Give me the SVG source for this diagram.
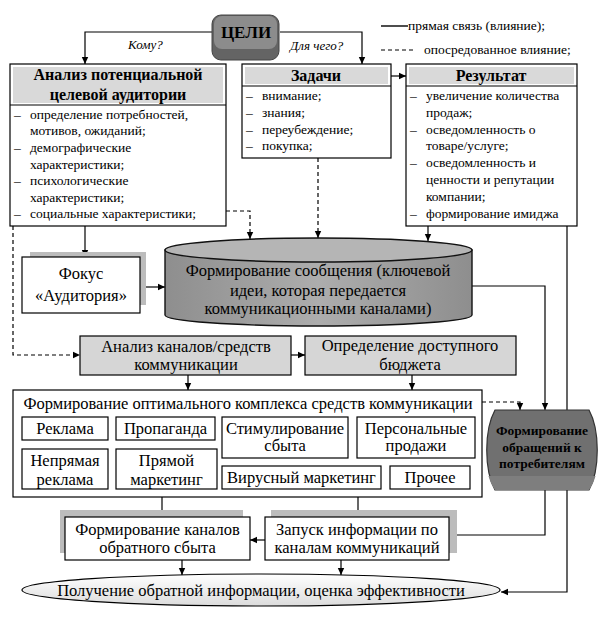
<svg xmlns="http://www.w3.org/2000/svg" width="602" height="618" viewBox="0 0 602 618" font-family="Liberation Serif, DejaVu Serif, serif">
<style>
text{font-family:Liberation Serif, DejaVu Serif, serif;fill:#000}
.b{font-size:13.5px}
.m{font-size:16.5px}
.h{font-size:16px;font-weight:bold}
.c{text-anchor:middle}
.i{font-size:13px;font-style:italic}
.box{fill:#fff;stroke:#000;stroke-width:1.2}
.gbox{fill:#d6d6d6;stroke:#000;stroke-width:1.2}
.hdr{fill:#d9d9d9}
.sh{fill:#bcbcbc}
.ln{fill:none;stroke:#000;stroke-width:1.2}
.ar{marker-end:url(#a)}
.da{stroke-dasharray:4,3}
</style>
<defs>
<marker id="a" markerWidth="8" markerHeight="8" refX="7" refY="4" orient="auto" markerUnits="userSpaceOnUse">
<path d="M0,0.8 L7,4 L0,7.2 Z" fill="#000"/>
</marker>
<linearGradient id="cyl" x1="0" y1="0" x2="1" y2="0">
<stop offset="0" stop-color="#8e8e8e"/>
<stop offset="0.5" stop-color="#adadad"/>
<stop offset="1" stop-color="#8e8e8e"/>
</linearGradient>
<linearGradient id="ell" x1="0" y1="0" x2="0" y2="1">
<stop offset="0" stop-color="#ffffff"/>
<stop offset="1" stop-color="#dcdcdc"/>
</linearGradient>
</defs>
<rect width="602" height="618" fill="#fff"/>

<g id="connectors">
<polyline class="ln ar" points="213,32 85,32 85,64"/>
<polyline class="ln ar" points="280,32 362,32 362,64"/>
<polyline class="ln ar" points="391,76 406,76"/>
<polyline class="ln ar da" points="226,211 250,211 250,239"/>
<polyline class="ln ar da" points="318,158 318,238"/>
<polyline class="ln ar" points="428,226 428,241"/>
<polyline class="ln ar" points="85,226 85,257"/>
<polyline class="ln ar da" points="13,226 13,355 80,355"/>
<polyline class="ln ar" points="140,287 165,287"/>
<polyline class="ln ar" points="472,286 545,286 545,410"/>
<polyline class="ln ar" points="567,226 567,592 501,592"/>
<polyline class="ln ar" points="291,355 305,355"/>
<polyline class="ln ar" points="188,375 188,390"/>
<polyline class="ln ar" points="412,375 412,390"/>
<polyline class="ln ar da" points="482,402 520,402 520,410"/>
<polyline class="ln ar" points="162,497 162,517"/>
<polyline class="ln ar" points="358,497 358,517"/>
<polyline class="ln ar" points="545,490 545,535 450,535"/>
<polyline class="ln ar" points="265,540 250,540"/>
<polyline class="ln ar" points="182,560 182,575"/>
<polyline class="ln ar" points="341,560 341,575"/>
</g>

<g id="legend">
<line x1="381" y1="26" x2="408" y2="26" stroke="#000" stroke-width="1.4"/>
<text class="b" x="408" y="30">прямая связь (влияние);</text>
<line x1="381" y1="50" x2="414" y2="50" stroke="#000" stroke-width="1.2" stroke-dasharray="4,3"/>
<text class="b" x="424" y="54">опосредованное влияние;</text>
</g>

<g id="labels">
<text class="i" x="128" y="49">Кому?</text>
<text class="i" x="290" y="50">Для чего?</text>
</g>

<g id="celi">
<rect x="212" y="15" width="67" height="45" rx="9" fill="#646464" stroke="#444" stroke-width="1"/>
<rect x="214" y="16" width="63" height="33" rx="8" fill="#8c8c8c"/>
<text x="246" y="38" class="c" style="font-size:17px;font-weight:bold">ЦЕЛИ</text>
</g>

<g id="analiz">
<rect class="box" x="10" y="64" width="216" height="162"/>
<rect class="hdr" x="13" y="67" width="210" height="36"/>
<line x1="10" y1="105" x2="226" y2="105" stroke="#000" stroke-width="1.2"/>
<text class="h c" x="118" y="80">Анализ потенциальной</text>
<text class="h c" x="118" y="100">целевой аудитории</text>
<text class="b" x="14" y="118.5">–</text><text class="b" x="30" y="118.5">определение потребностей,</text>
<text class="b" x="30" y="135.2">мотивов, ожиданий;</text>
<text class="b" x="14" y="151.8">–</text><text class="b" x="30" y="151.8">демографические</text>
<text class="b" x="30" y="168.5">характеристики;</text>
<text class="b" x="14" y="185.1">–</text><text class="b" x="30" y="185.1">психологические</text>
<text class="b" x="30" y="201.8">характеристики;</text>
<text class="b" x="14" y="218.4">–</text><text class="b" x="30" y="218.4">социальные характеристики;</text>
</g>

<g id="zadachi">
<rect class="box" x="242" y="64" width="149" height="94"/>
<rect class="hdr" x="245" y="67" width="143" height="17"/>
<line x1="242" y1="86" x2="391" y2="86" stroke="#000" stroke-width="1.2"/>
<text class="h c" x="316" y="81">Задачи</text>
<text class="b" x="246" y="100">–</text><text class="b" x="262" y="100">внимание;</text>
<text class="b" x="246" y="116.8">–</text><text class="b" x="262" y="116.8">знания;</text>
<text class="b" x="246" y="133.6">–</text><text class="b" x="262" y="133.6">переубеждение;</text>
<text class="b" x="246" y="150.4">–</text><text class="b" x="262" y="150.4">покупка;</text>
</g>

<g id="rezultat">
<rect class="box" x="406" y="64" width="171" height="162"/>
<rect class="hdr" x="409" y="67" width="165" height="17"/>
<line x1="406" y1="86" x2="577" y2="86" stroke="#000" stroke-width="1.2"/>
<text class="h c" x="491" y="81">Результат</text>
<text class="b" x="410" y="100">–</text><text class="b" x="426" y="100">увеличение количества</text>
<text class="b" x="426" y="116.8">продаж;</text>
<text class="b" x="410" y="133.6">–</text><text class="b" x="426" y="133.6">осведомленность о</text>
<text class="b" x="426" y="150.4">товаре/услуге;</text>
<text class="b" x="410" y="167.2">–</text><text class="b" x="426" y="167.2">осведомленность и</text>
<text class="b" x="426" y="184">ценности и репутации</text>
<text class="b" x="426" y="200.8">компании;</text>
<text class="b" x="410" y="217.6">–</text><text class="b" x="426" y="217.6">формирование имиджа</text>
</g>

<g id="fokus">
<rect class="sh" x="30" y="252" width="116" height="53"/>
<rect class="box" x="22" y="257" width="118" height="56"/>
<text class="m c" x="81" y="279">Фокус</text>
<text class="m c" x="81" y="301">«Аудитория»</text>
</g>

<g id="soobshchenie">
<path d="M165,250 L165,315 A153.5,11 0 0 0 472,315 L472,250 Z" fill="url(#cyl)" stroke="#111" stroke-width="1.4"/>
<ellipse cx="318.5" cy="250" rx="153.5" ry="12" fill="#b5b5b5" stroke="#111" stroke-width="1.4"/>
<text class="m c" x="318" y="275.5">Формирование сообщения (ключевой</text>
<text class="m c" x="318" y="295.5">идеи, которая передается</text>
<text class="m c" x="318" y="314">коммуникационными каналами)</text>
</g>

<g id="kanaly">
<rect class="gbox" x="80" y="336" width="211" height="39"/>
<text class="m c" x="186" y="351.5">Анализ каналов/средств</text>
<text class="m c" x="186" y="369.5">коммуникации</text>
</g>

<g id="byudzhet">
<rect class="gbox" x="305" y="336" width="211" height="39"/>
<text class="m c" x="410" y="351">Определение доступного</text>
<text class="m c" x="410" y="369.5">бюджета</text>
</g>

<g id="kompleks">
<rect class="box" x="13" y="390" width="469" height="107"/>
<text class="m c" x="248" y="408.5">Формирование оптимального комплекса средств коммуникации</text>
<rect class="box" x="22" y="417" width="86" height="23"/>
<text class="m c" x="65" y="434">Реклама</text>
<rect class="box" x="116" y="417" width="99" height="23"/>
<text class="m c" x="165.5" y="434">Пропаганда</text>
<rect class="box" x="22" y="449" width="86" height="40"/>
<text class="m c" x="65" y="466">Непрямая</text>
<text class="m c" x="65" y="484.5">реклама</text>
<rect class="box" x="116" y="449" width="101" height="40"/>
<text class="m c" x="166.5" y="466">Прямой</text>
<text class="m c" x="166.5" y="484.5">маркетинг</text>
<rect class="box" x="222" y="417" width="126" height="41"/>
<text class="m c" x="285" y="433.5">Стимулирование</text>
<text class="m c" x="285" y="451">сбыта</text>
<rect class="box" x="357" y="417" width="118" height="41"/>
<text class="m c" x="416" y="433.5">Персональные</text>
<text class="m c" x="416" y="451">продажи</text>
<rect class="box" x="222" y="466" width="159" height="23"/>
<text class="m c" x="301.5" y="483">Вирусный маркетинг</text>
<rect class="box" x="390" y="466" width="80" height="23"/>
<text class="m c" x="430" y="483">Прочее</text>
</g>

<g id="obrashcheniya">
<path d="M495,410 H589 C600,430 600,470 589,490 H495 C484,470 484,430 495,410 Z" fill="#707070" stroke="#333" stroke-width="1.2"/>
<path d="M488.5,476 H595.5 C594,481 592,486 589,490 H495 C492,486 490,481 488.5,476 Z" fill="#7e7e7e"/>
<text class="c" x="542" y="434.5" style="font-size:13.5px;font-weight:bold">Формирование</text>
<text class="c" x="542" y="451.5" style="font-size:13.5px;font-weight:bold">обращений к</text>
<text class="c" x="542" y="468" style="font-size:13.5px;font-weight:bold">потребителям</text>
</g>

<g id="obratnyi-sbyt">
<rect class="sh" x="60" y="510" width="183" height="43"/>
<rect class="box" x="65" y="517" width="185" height="43"/>
<text class="m c" x="157.5" y="535">Формирование каналов</text>
<text class="m c" x="157.5" y="553">обратного сбыта</text>
</g>

<g id="zapusk">
<rect class="sh" x="271" y="510" width="186" height="43"/>
<rect class="box" x="265" y="517" width="184" height="43"/>
<text class="m c" x="357" y="535">Запуск информации по</text>
<text class="m c" x="357" y="553">каналам коммуникаций</text>
</g>

<g id="effektivnost">
<ellipse cx="261" cy="590" rx="239" ry="16" fill="url(#ell)" stroke="#000" stroke-width="1.2"/>
<text class="m c" x="261" y="596">Получение обратной информации, оценка эффективности</text>
</g>
</svg>
